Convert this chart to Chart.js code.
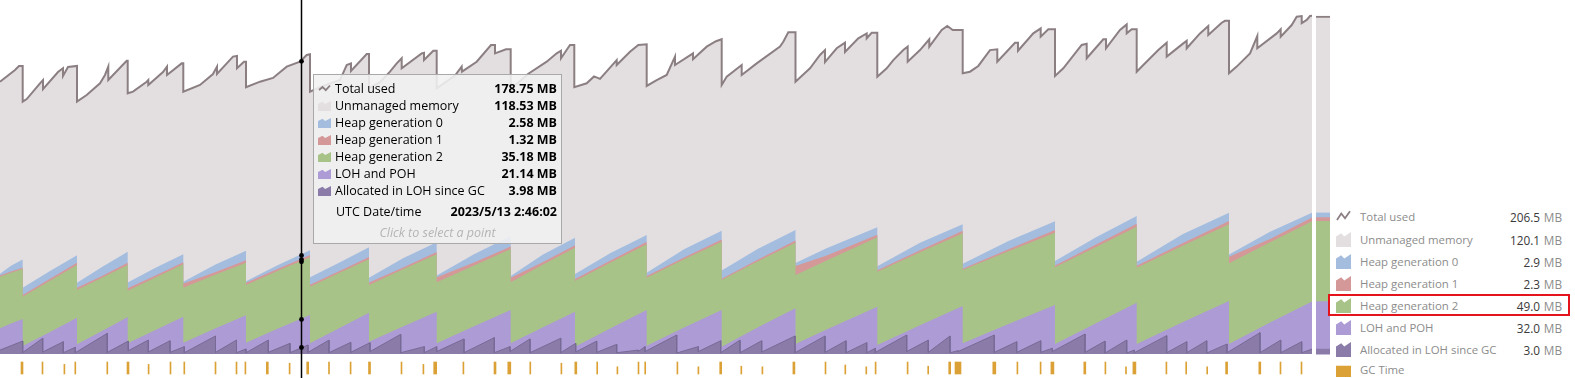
<!DOCTYPE html>
<html>
<head>
<meta charset="utf-8">
<script src="https://cdn.jsdelivr.net/npm/chart.js@4.4.0/dist/chart.umd.min.js"></script>
<style>
  html, body { margin: 0; padding: 0; background: #fff; }
  body { width: 1575px; height: 378px; position: relative; overflow: hidden; font-family: "Open Sans", "Noto Sans", sans-serif; }
  #main { position: absolute; left: 0; top: 0; }
  #now { position: absolute; left: 1316px; top: 0; }
  .tip { position: absolute; left: 313px; top: 74px; width: 247px; height: 168px; background: rgba(241,241,241,0.88); border: 1px solid #a9a9a9; font-size: 12.5px; color: #000; }
  .tip .row { position: absolute; left: 0; width: 243px; height: 17px; line-height: 17px; white-space: nowrap; }
  .tip .row svg { position: absolute; left: 4px; top: 4px; }
  .tip .row .lab { position: absolute; left: 21px; }
  .tip .row .val { position: absolute; right: 0; font-weight: bold; }
  .tip .hint { position: absolute; left: 0; width: 247px; text-align: center; font-style: italic; color: #b4b4b4; }
  .leg { position: absolute; left: 1336px; width: 226px; height: 20px; line-height: 20px; font-size: 11.4px; color: #8c8c8c; white-space: nowrap; }
  .leg svg { position: absolute; left: 0; top: 2px; }
  .leg .lab { position: absolute; left: 24px; }
  .leg .num { position: absolute; right: 22px; color: #3a3a3a; font-size: 11.8px; }
  .leg .unit { position: absolute; right: 0; font-size: 11.8px; }
  .mark { position: absolute; left: 1328px; top: 294px; width: 238px; height: 18px; border: 2px solid #e5131b; }
</style>
</head>
<body>
<canvas id="main" width="1312" height="378"></canvas>
<canvas id="now" width="14" height="378"></canvas>
<div id="tip" class="tip"></div>
<div id="legend"></div>
<div class="mark"></div>
<script>
// memory timeline, MB values

const seriesNames = ["Total used", "Unmanaged memory", "Heap generation 0", "Heap generation 1",
  "Heap generation 2", "LOH and POH", "Allocated in LOH since GC"];

// total used (top outline), sampled at corners of the saw teeth
const totalX = [0, 15, 19, 22.7, 22.7,
  26.7, 40, 43, 43, 58, 63, 63, 68, 77, 77,
  86.7, 100, 105, 108.3, 108.3, 126.7, 127.7, 127.7,
  133, 146.7, 148.3, 148.3, 163, 167, 167, 181.7, 183.3, 183.3,
  200, 213, 217, 217, 233, 237, 237, 244, 246, 246,
  260, 273, 286.7, 300, 306.7, 310, 310,
  320, 340, 346.7, 351, 351, 366.7, 369, 369,
  380, 390, 396.7, 401.7, 401.7, 421.7, 424, 424, 433.3, 436.7, 436.7,
  455, 461.7, 462, 476.7, 491, 495, 495, 506, 510.7, 510.7,
  515, 528, 546.7, 556.7, 561, 561, 570, 574.3, 574.3,
  586.7, 594, 600, 616.7, 616.7, 630, 638.3, 646.7, 646.7,
  656.7, 666.7, 675, 675, 693, 693, 706.7, 716, 721.7, 721.7,
  726.7, 741.7, 741.7, 756.7, 780, 783.3, 788.3, 795.5, 795.5,
  810, 820, 825, 825, 836.7, 845, 845, 858.3, 866.7, 866.7, 871.7, 877.3, 877.3,
  886.7, 893.3, 903.3, 907.7, 907.7, 920, 929.3, 929.3, 941.7, 947.3, 952.7, 962.7, 962.7,
  970, 978.3, 990, 997.3, 997.3, 1015, 1018, 1018, 1033.3, 1040.7, 1040.7, 1048.3, 1055, 1055,
  1063.3, 1081.7, 1086.7, 1086.7, 1103.3, 1106, 1106, 1120, 1126.7, 1126.7, 1131.7, 1136.7, 1136.7,
  1143.3, 1158.3, 1166.7, 1166.7, 1183.3, 1186.7, 1186.7, 1200, 1208.3, 1208.3, 1221.7, 1225, 1229, 1229,
  1236.7, 1250, 1257.3, 1257.3, 1276.7, 1280.7, 1280.7, 1291.7, 1296.7, 1301.7, 1301.7, 1306.7, 1310, 1312];
const totalMB = [166.3, 173.4, 175.9, 175.9, 154.1,
  155.7, 165.3, 167.3, 161.8, 172.2, 174.5, 169.8, 175.3, 175.9, 154.1,
  158.2, 165.3, 170.4, 175.5, 167.3, 179.1, 179.1, 159.2,
  160.2, 166.3, 167.3, 164.3, 172.2, 175.5, 170.4, 177.5, 177.5, 160.2,
  164.3, 171.0, 175.5, 171.0, 181.6, 182.0, 174.5, 178.5, 178.5, 162.9,
  166.3, 168.6, 175.5, 178.5, 182.6, 183.0, 160.2,
  163.0, 167.3, 176.5, 177.5, 172.8, 183.2, 183.2, 162.4,
  166.0, 172.4, 177.5, 180.6, 174.5, 183.6, 184.0, 179.5, 185.2, 185.2, 162.3,
  170.0, 175.5, 172.4, 178.5, 188.7, 188.7, 183.6, 186.1, 186.1, 162.9,
  164.0, 171.0, 178.5, 183.6, 185.2, 180.6, 188.7, 188.7, 162.9,
  165.3, 169.5, 168.0, 179.5, 176.5, 184.6, 188.7, 189.1, 163.7,
  167.3, 170.4, 181.6, 176.5, 183.6, 180.0, 187.7, 191.0, 192.2, 164.3,
  169.3, 176.5, 170.4, 177.5, 187.7, 190.7, 196.5, 196.5, 166.3,
  174.5, 182.6, 185.6, 178.3, 186.7, 190.1, 184.4, 192.8, 195.8, 192.8, 196.2, 196.2, 169.3,
  174.5, 179.5, 185.6, 187.7, 178.5, 185.6, 192.2, 187.7, 197.9, 200.3, 197.9, 197.9, 171.4,
  172.4, 175.9, 185.6, 186.1, 178.5, 190.1, 190.1, 185.2, 195.8, 198.9, 193.8, 198.3, 198.3, 169.8,
  174.5, 188.7, 189.5, 180.6, 192.2, 192.2, 186.7, 197.9, 201.3, 195.8, 198.3, 198.3, 172.4,
  176.5, 185.6, 190.1, 181.6, 189.7, 191.3, 186.7, 195.8, 200.3, 194.8, 202.3, 203.5, 203.5, 171.4,
  175.5, 183.6, 194.2, 186.7, 195.8, 198.3, 193.8, 200.9, 206.0, 206.4, 202.0, 204.0, 206.4, 206.5];

// managed heap, start / middle / end of every gen2 cycle
const heapX = [0, 11, 22.7, 22.7, 50, 77, 77, 102, 127.7, 127.7, 156, 183.3,
  183.3, 215, 246, 246, 278, 310, 310, 340, 369, 369, 403, 436.7,
  436.7, 474, 510.7, 510.7, 543, 575, 575, 611, 646.7, 646.7, 684, 721.7,
  721.7, 758, 795.5, 795.5, 826, 877.3, 877.3, 920, 962.7, 962.7, 1009, 1055,
  1055, 1096, 1136.7, 1136.7, 1183, 1229, 1229, 1270, 1312];
const lohMB = [15.7, 18.6, 21.4, 4.9, 13.5, 22.2, 5.9, 14.0, 22.6, 6.5, 14.8, 22.8,
  6.9, 15.5, 23.6, 6.9, 15.6, 23.8, 6.5, 16.1, 25.2, 7.5, 16.8, 25.8,
  6.5, 16.9, 26.9, 6.5, 16.4, 25.8, 4.5, 15.9, 26.9, 5.1, 16.2, 26.9,
  4.5, 16.3, 27.9, 6.1, 14.8, 28.9, 5.5, 17.6, 29.3, 6.5, 18.4, 29.9,
  6.1, 18.8, 31.3, 6.1, 19.6, 32.4, 6.1, 19.2, 32.0];
const gen2MB = [31.5, 31.0, 30.5, 30.1, 31.2, 32.2, 33.2, 32.5, 31.8, 32.2, 32.1, 32.0,
  33.6, 32.9, 32.2, 35.2, 35.2, 35.3, 34.6, 33.6, 32.6, 34.6, 34.9, 35.1,
  37.3, 37.2, 37.2, 37.3, 38.2, 39.1, 40.1, 40.1, 40.1, 41.5, 41.6, 41.7,
  40.7, 40.4, 40.1, 42.1, 42.2, 42.4, 44.8, 44.6, 44.4, 44.8, 44.5, 44.2,
  46.9, 46.6, 46.4, 46.6, 46.7, 46.8, 49.3, 49.1, 49.0];
const gen1MB = [0.8, 0.8, 0.8, 1.0, 1.2, 1.4, 1.4, 1.2, 1.3, 1.5, 1.2, 1.3,
  2.6, 1.6, 1.4, 1.4, 1.3, 1.3, 1.2, 1.2, 1.4, 1.5, 1.2, 1.4,
  3.0, 1.8, 1.6, 2.8, 1.6, 1.5, 1.2, 1.3, 1.5, 1.0, 1.2, 1.4,
  0.8, 1.0, 1.3, 5.5, 3.0, 1.6, 0.8, 1.2, 1.5, 0.8, 1.2, 1.6,
  1.0, 1.4, 1.9, 1.2, 1.5, 2.0, 4.0, 2.0, 2.3];
const gen0MB = [1.0, 3.5, 5.0, 4.5, 4.8, 4.5, 3.0, 5.5, 6.8, 3.5, 4.8, 4.8,
  1.0, 4.5, 5.8, 1.0, 2.2, 3.0, 4.5, 5.2, 6.0, 3.0, 5.5, 6.0,
  1.2, 5.0, 6.3, 1.0, 4.5, 4.6, 3.0, 4.6, 4.2, 2.0, 5.0, 5.3,
  5.0, 6.5, 6.5, 1.8, 4.5, 4.5, 2.5, 4.5, 4.0, 3.0, 5.0, 5.3,
  2.8, 4.5, 4.6, 2.4, 5.5, 5.0, 1.4, 4.3, 2.9];

// allocated in LOH since GC: value just before each GC and right after it
const allocStartMB = 2.4;
const allocGcX = [22.7, 42.7, 63.3, 75.3, 107.3, 128.3, 148.3, 170, 184.3, 215.5, 236.5, 246,
  268.3, 290, 308, 329, 350.7, 370, 400.7, 424.3, 436.7, 464, 494.3, 510,
  530, 560.7, 575.7, 596.7, 616.7, 638.3, 645, 676.7, 698.3, 720.7, 740, 761.7,
  795, 825, 846, 866.7, 875.3, 906.7, 928.3, 950, 958, 994.3, 1016.7, 1040.7,
  1052.4, 1085, 1105, 1126.7, 1134.4, 1166.7, 1186.7, 1206.7, 1227, 1260, 1280.7, 1301.7];
const allocPeakMB = [7.9, 9.6, 7.5, 4.1, 12.6, 7.9, 8.5, 8.1, 4.5, 11.0, 8.5, 3.1,
  8.5, 6.5, 5.5, 8.5, 7.1, 6.9, 12.0, 4.5, 4.5, 9.2, 10.0, 4.5,
  9.2, 9.6, 6.5, 7.9, 5.9, 2.4, 4.5, 11.6, 4.5, 8.1, 8.5, 8.1,
  11.0, 11.0, 8.1, 6.9, 3.5, 11.6, 8.5, 11.0, 2.0, 11.6, 7.5, 8.1,
  3.5, 12.2, 7.9, 8.5, 2.4, 11.2, 7.5, 8.1, 6.1, 13.0, 8.5, 7.5];
const allocLowMB = [0.9, 1.2, 0.8, 0.8, 1.0, 2.0, 1.2, 1.0, 0.8, 1.0, 0.8, 0.8,
  1.0, 0.8, 1.0, 0.8, 1.0, 1.5, 0.8, 0.8, 1.5, 0.8, 0.8, 1.5,
  0.8, 0.8, 1.2, 1.0, 0.8, 1.5, 1.5, 0.6, 1.5, 0.8, 0.8, 1.2,
  0.8, 1.0, 0.8, 0.8, 1.0, 1.5, 1.0, 0.8, 1.5, 1.0, 1.0, 1.0,
  1.5, 1.0, 0.6, 0.6, 0.8, 0.8, 0.8, 0.6, 0.8, 0.8, 0.8, 0.8];

// GC time marks: position, relative height, width in px
const gcX = [22, 42.5, 64.4, 75.3, 107.3, 128, 148.6, 170.5, 184.3, 215.5, 236.5, 245.4,
  267.3, 289.6, 307.7, 329, 350.6, 369.5, 401.5, 423.4, 435.2, 463.4, 495, 509.3,
  530.3, 561.4, 575.8, 597.2, 617.4, 638.5, 645.2, 677.4, 698.4, 720.7, 741.3, 762.4,
  793.9, 825.5, 845.3, 866.3, 875.6, 907.6, 928.2, 949.7, 958, 994.3, 1017.4, 1040.6,
  1052.4, 1084.8, 1105.4, 1126, 1134.4, 1166.4, 1186.2, 1207.2, 1226.6, 1259.8, 1280.5, 1301.5];
const gcH = [1, 1, 0.8, 1, 1, 1, 0.8, 1, 1, 1, 1, 1,
  1, 0.9, 1, 1, 1, 1, 1, 0.8, 1, 1, 1, 1,
  1, 0.9, 1, 1, 0.6, 1, 1, 1, 0.6, 1, 0.65, 0.6,
  1, 1, 0.75, 0.6, 1, 1, 0.65, 1, 1, 1, 1, 1,
  1, 1, 1, 0.6, 1, 1, 1, 0.6, 1, 1, 1, 1];
const gcW = [2, 1, 1, 1, 1, 2, 1, 1, 1, 1, 1, 1,
  2, 1, 2, 1, 1, 2, 1, 1, 3, 1, 2, 3,
  1, 1, 2, 1, 1, 1, 1, 1, 1, 2, 1, 1,
  2, 1, 1, 1, 1, 1, 1, 2, 6, 3, 1, 1,
  3, 2, 1, 1, 3, 1, 1, 1, 2, 2, 1, 1];

// hovered point (tooltip) and latest values (legend)
const cursorX = 301;
const tipMB = [178.75, 118.53, 2.58, 1.32, 35.18, 21.14, 3.98];
const tipTime = "2023/5/13 2:46:02";
const nowMB = [206.5, 120.1, 2.9, 2.3, 49.0, 32.0, 3.0];

const colors = {
  total: "#8b7f82", unmanaged: "#e3dfe0", gen0: "#a4bddf", gen1: "#d49898",
  gen2: "#a8c388", loh: "#ad9bd5", alloc: "#8a7ba8", allocLine: "#786a96", gc: "#dba136"
};
const seriesColors = [colors.total, colors.unmanaged, colors.gen0, colors.gen1, colors.gen2, colors.loh, colors.alloc];

// stacked outlines of the heap bands
const sumOf = (...arrs) => arrs[0].map((_, i) => arrs.reduce((s, a) => s + a[i], 0));
const lohTop = lohMB;
const gen2Top = sumOf(lohMB, gen2MB);
const gen1Top = sumOf(lohMB, gen2MB, gen1MB);
const gen0Top = sumOf(lohMB, gen2MB, gen1MB, gen0MB);
const pts = (xs, ys) => xs.map((x, i) => ({ x, y: ys[i] }));

const allocPts = [{ x: 0, y: allocStartMB }];
allocGcX.forEach((x, i) => {
  allocPts.push({ x, y: allocPeakMB[i] });
  allocPts.push({ x, y: allocLowMB[i] });
});
allocPts.push({ x: 1312, y: nowMB[6] });

function area(label, data, color, order, line, lineWidth) {
  return {
    type: "line", label, data, order, yAxisID: "y",
    fill: { value: 0 }, backgroundColor: color,
    borderColor: line || color, borderWidth: line ? lineWidth : 0,
    pointRadius: 0, tension: 0, borderJoinStyle: "miter"
  };
}

const datasets = [
  area("Total used", pts(totalX, totalMB), colors.unmanaged, 10, colors.total, 2),
  area("Heap generation 0", pts(heapX, gen0Top), colors.gen0, 9),
  area("Heap generation 1", pts(heapX, gen1Top), colors.gen1, 8),
  area("Heap generation 2", pts(heapX, gen2Top), colors.gen2, 7),
  area("LOH and POH", pts(heapX, lohTop), colors.loh, 6),
  area("Allocated in LOH since GC", allocPts, colors.alloc, 5, colors.allocLine, 1)
];

[...new Set(gcW)].forEach(w => {
  datasets.push({
    type: "bar", label: "GC Time", yAxisID: "yGC", order: 1,
    data: gcX.map((x, i) => (gcW[i] === w ? { x, y: gcH[i] } : null)).filter(Boolean),
    barThickness: w, grouped: false, backgroundColor: colors.gc, borderWidth: 0
  });
});

// px per MB: bottom of plot at 354px, 1.6375 px per MB
const yMin = -24 / 1.6375, yMax = 354 / 1.6375;

const cursorPlugin = {
  id: "cursor",
  afterDatasetsDraw(chart) {
    const { ctx, scales } = chart;
    const px = Math.round(scales.x.getPixelForValue(cursorX)) + 0.5;
    ctx.save();
    ctx.strokeStyle = "#000";
    ctx.lineWidth = 1.5;
    ctx.beginPath();
    ctx.moveTo(px, 0);
    ctx.lineTo(px, chart.height);
    ctx.stroke();
    const loh = tipMB[5], g2 = loh + tipMB[4], g1 = g2 + tipMB[3], g0 = g1 + tipMB[2];
    [tipMB[0], g0, g1, g2, loh, tipMB[6]].forEach(v => {
      ctx.beginPath();
      ctx.arc(px, scales.y.getPixelForValue(v), 2.4, 0, Math.PI * 2);
      ctx.fillStyle = "#000";
      ctx.fill();
    });
    ctx.restore();
  }
};

new Chart(document.getElementById("main"), {
  type: "line",
  data: { datasets },
  options: {
    responsive: false, animation: false, events: [],
    layout: { padding: 0 },
    plugins: { legend: { display: false }, tooltip: { enabled: false } },
    scales: {
      x: { type: "linear", min: 0, max: 1312, display: false, offset: false },
      y: { min: yMin, max: yMax, display: false },
      yGC: { min: -4 / 12, max: 374 / 12, display: false }
    }
  },
  plugins: [cursorPlugin]
});

// latest values column
const nLoh = nowMB[5], nG2 = nLoh + nowMB[4], nG1 = nG2 + nowMB[3], nG0 = nG1 + nowMB[2], nTop = nG0 + nowMB[1];
const colBar = (range, color, extra) => Object.assign({
  data: [range], backgroundColor: color, borderWidth: 0, grouped: false,
  barPercentage: 1, categoryPercentage: 1
}, extra || {});
new Chart(document.getElementById("now"), {
  type: "bar",
  data: {
    labels: ["now"],
    datasets: [
      colBar([0, nowMB[6]], colors.alloc),
      colBar([0, nLoh], colors.loh),
      colBar([nLoh, nG2], colors.gen2),
      colBar([nG2, nG1], colors.gen1),
      colBar([nG1, nG0], colors.gen0),
      colBar([nG0, nTop], colors.unmanaged, { borderWidth: { top: 2, left: 0, right: 0, bottom: 0 }, borderColor: colors.total, borderSkipped: false })
    ]
  },
  options: {
    responsive: false, animation: false, events: [],
    layout: { padding: 0 },
    plugins: { legend: { display: false }, tooltip: { enabled: false } },
    scales: { x: { display: false }, y: { min: yMin, max: yMax, display: false } }
  }
});

// icons
function icon(kind, color, w, h) {
  if (kind === "line") {
    return `<svg width="${w}" height="${h}"><path d="M1 ${h - 4} L${w * 0.35} ${h * 0.3} L${w * 0.6} ${h * 0.62} L${w - 1} ${h * 0.15}" fill="none" stroke="${color}" stroke-width="1.8"/></svg>`;
  }
  if (kind === "box") {
    return `<svg width="${w}" height="${h}"><rect x="0" y="${h * 0.25}" width="${w}" height="${h * 0.75}" fill="${color}"/></svg>`;
  }
  return `<svg width="${w}" height="${h}"><polygon points="0,${h} 0,${h * 0.3} ${w * 0.35},${h * 0.08} ${w * 0.55},${h * 0.3} ${w},0 ${w},${h}" fill="${color}"/></svg>`;
}

// tooltip box
const tip = document.getElementById("tip");
let html = "";
seriesNames.forEach((name, i) => {
  html += `<div class="row" style="top:${5 + i * 17}px">${icon(i === 0 ? "line" : "area", seriesColors[i], 13, 10)}` +
    `<span class="lab">${name}</span><span class="val">${tipMB[i].toFixed(2)} MB</span></div>`;
});
html += `<div class="row" style="top:${128}px"><span class="lab" style="left:22px">UTC Date/time</span><span class="val">${tipTime}</span></div>`;
html += `<div class="hint" style="top:${149}px">Click to select a point</div>`;
tip.innerHTML = html;

// legend on the right
const legendRowsY = [217, 239.5, 261.5, 283.5, 305.5, 327.5, 349.5, 370];
const legend = document.getElementById("legend");
let lh = "";
seriesNames.forEach((name, i) => {
  lh += `<div class="leg" style="top:${legendRowsY[i] - 10}px">${icon(i === 0 ? "line" : "area", seriesColors[i], 15, 15)}` +
    `<span class="lab">${name}</span><span class="num">${nowMB[i].toFixed(1)}</span><span class="unit">MB</span></div>`;
});
lh += `<div class="leg" style="top:${legendRowsY[7] - 10}px">${icon("box", colors.gc, 15, 15)}<span class="lab">GC Time</span></div>`;
legend.innerHTML = lh;
</script>
</body>
</html>
